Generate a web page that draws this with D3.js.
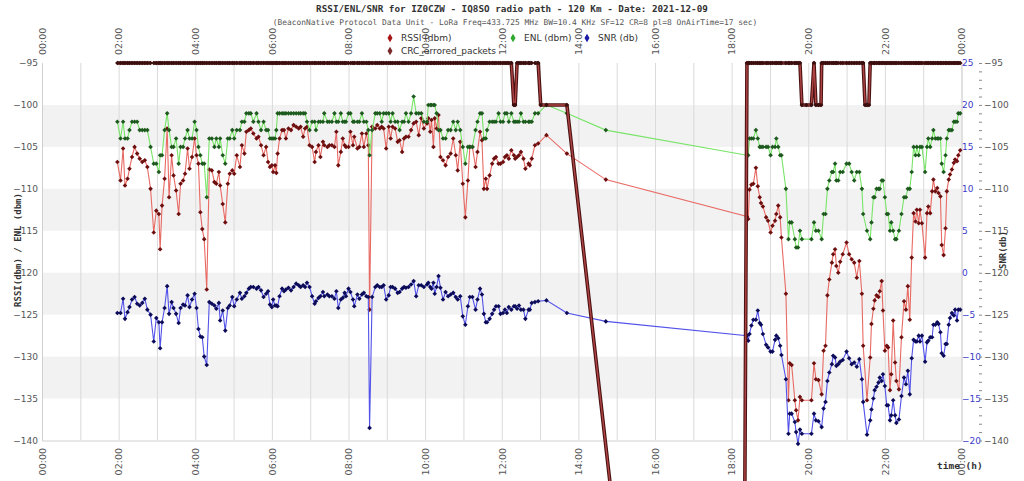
<!DOCTYPE html>
<html>
<head>
<meta charset="utf-8">
<script src="https://cdn.jsdelivr.net/npm/d3@7"></script>
<style>
  body { margin: 0; background: #fff; }
  svg text { font-family: "DejaVu Sans", sans-serif; }
  .mono { font-family: "DejaVu Sans Mono", monospace; }
</style>
</head>
<body>
<div id="chart"></div>
<script>
'use strict';

// time of each beacon record, minutes after midnight
var minutes = [
  118,123,127,130,134,137,141,145,149,153,
  157,161,165,170,175,179,183,185,188,192,
  196,199,203,206,210,214,217,221,224,228,
  231,235,239,242,245,248,251,254,258,262,
  266,270,273,277,279,283,287,291,294,298,
  301,305,310,313,317,320,324,327,331,336,
  339,343,347,351,354,357,360,362,365,367,
  369,372,376,379,382,386,390,394,398,402,
  405,409,412,415,419,423,427,429,433,436,
  440,442,447,450,454,458,461,464,468,471,
  474,476,480,483,487,489,494,497,501,504,
  508,511,513,517,522,525,529,532,535,539,
  543,546,549,553,557,560,564,567,570,574,
  578,582,586,590,594,598,603,605,608,610,
  613,615,618,621,624,628,632,636,640,644,
  648,651,655,659,663,667,670,674,679,682,
  686,689,692,695,697,701,705,708,711,715,
  718,722,725,728,731,735,739,741,744,747,
  750,754,757,762,764,767,772,777,781,790,
  822,883,1092,1104,1106,1108,1111,1114,1118,1121,
  1124,1126,1129,1134,1137,1141,1144,1148,1150,1153,
  1156,1158,1165,1169,1171,1174,1179,1181,1184,1187,
  1190,1197,1205,1209,1212,1216,1220,1221,1224,1227,
  1230,1233,1237,1239,1242,1244,1247,1250,1254,1260,
  1264,1268,1272,1276,1280,1284,1286,1289,1292,1295,
  1297,1299,1302,1304,1307,1310,1312,1315,1317,1320,
  1323,1325,1328,1330,1333,1336,1338,1342,1346,1350,
  1353,1356,1359,1362,1365,1368,1370,1373,1375,1378,
  1383,1386,1388,1391,1394,1396,1399,1402,1404,1407,
  1409,1412,1415,1417,1420,1422,1425,1428,1430,1433,
  1435,1438
];

var rssi = [
  -106.8,-109,-105.2,-109.6,-108.8,-107.6,-106.2,-105,-105.8,-106.4,
  -106.8,-106.6,-107.4,-110,-115.2,-112.6,-113,-117.2,-112,-108.8,
  -102.8,-111,-106,-108.4,-110.2,-113,-109.4,-109,-108.2,-105.2,
  -107.6,-106.2,-104,-106,-107,-112.8,-114.8,-116,-122,-107.7,
  -107.8,-109.2,-109.4,-108,-109.6,-111.8,-114,-109.4,-108.2,-107.8,
  -108.2,-106,-107.4,-104.8,-105.8,-103.2,-103,-102.8,-103.4,-104,
  -103.8,-104.8,-106,-105,-106.8,-107.4,-107.2,-108,-107.2,-108.1,
  -105.8,-104,-103,-103,-104,-102.8,-103,-102.4,-102.6,-102.8,
  -102.6,-103.8,-102.8,-102.6,-104.8,-105,-106.8,-105.6,-104.8,-106.2,
  -104.4,-104.8,-105,-104.8,-104.8,-105,-103.2,-107.2,-105.6,-104,
  -104.8,-105,-105,-103.2,-104.8,-103.8,-105.2,-105,-103.4,-105,
  -103.4,-104.8,-124.4,-102.6,-102.8,-102.4,-102.8,-102.6,-102.8,-105.2,
  -102.6,-104,-102.6,-102.8,-104.4,-104.2,-105.6,-104,-103.8,-103.8,
  -103,-102.2,-102,-103.6,-101.6,-102.8,-102.2,-101.6,-103.2,-101.8,
  -105,-101.6,-102.8,-101.2,-106.2,-106.6,-107.2,-106.2,-105.8,-104,
  -106,-107.8,-104.4,-109.4,-113.4,-109,-105,-105,-107.4,-105.6,
  -103.2,-104.2,-110,-108.8,-110,-108.4,-107,-106.4,-106.2,-107,
  -107,-106.8,-106.2,-106,-106.4,-105.4,-106,-106.4,-106.2,-106,
  -105.6,-106.4,-107.6,-107,-107.2,-106.4,-104.8,-104.6,null,-103.6,
  -105.8,-108.9,null,-113.3,-113.6,-110.1,-109.5,-109.4,-107.5,-109.7,
  -111,-111.7,-112.1,-113.4,-113.8,-115.2,-114.4,-113.8,-113,-112,
  -113.4,-115.8,-122.5,-135.2,-130.8,-131,-135.2,-136.4,-137.6,-134.8,
  -135.2,null,-135.2,-130.8,-132.7,-132.8,null,-134.5,-129.3,-128.7,
  -122.7,-120.8,-118.8,-117.8,-117.2,-119.2,-120,-118.7,-117.8,-116.4,
  -117.8,-118.4,-118.8,-120.6,-118.6,-122.5,-128.7,null,-135.2,null,
  -130.1,-126.1,-124.3,-123.3,-122.7,-122.9,-122.2,-121,-124.5,-129.3,
  -128.7,-128.9,-134,-132.1,-125.7,-130.7,-132.9,-133.9,-127.7,-123.4,
  -124.4,-121.6,-125.6,-118.2,-112.9,-113.9,-112.5,-114.1,-112.5,-114.1,
  -118.2,-112.9,-112.1,-112.9,-110.3,-108.9,-110.3,-109.9,-110.5,-110.9,
  -116.7,-117.9,-114.7,-110.3,-108.9,-108.3,-107.7,-106.9,-106.5,-106.7,
  -106,-105.4
];

var enl = [
  -102,-104,-102,-104,-104,-103,-102,-102,-102,-103,
  -103,-103,-103,-105,-107,-107,-108,-106,-106,-103,
  -101,-103,-105,-105,-104,-107,-105,-105,-104,-103,
  -104,-104,-102,-103,-105,-106,-107,-107,-111,-104,
  -104,-105,-104,-105,-104,-106,-107,-104,-104,-103,
  -104,-103,-103,-102,-102,-101,-101,-101,-102,-101,
  -102,-103,-102,-103,-103,-104,-104,-104,-104,-103,
  -101,-101,-101,-101,-101,-101,-101,-101,-101,-101,
  -101,-101,-101,-102,-103,-102,-102,-103,-102,-102,
  -102,-101,-102,-102,-102,-101,-102,-102,-101,-102,
  -102,-102,-101,-101,-102,-102,-102,-102,-101,-102,
  -102,-103,-106,-103,-101,-101,-101,-102,-101,-101,
  -101,-102,-101,-102,-102,-103,-102,-102,-101,-102,
  -101,-99,-101,-101,-101,-102,-102,-100,-100,-100,
  -100,-100,-101,-103,-103,-104,-104,-103,-103,-102,
  -103,-102,-103,-105,-107,-105,-105,-105,-103,-102,
  -101,-101,-104,-104,-103,-102,-102,-102,-102,-101,
  -102,-102,-101,-101,-102,-101,-102,-102,-102,-102,
  -101,-102,-102,-102,-102,-102,-101,-101,null,-100,
  -101,-103,null,-106,-106,-104,-104,-104,-103,-104,
  -105,-105,-105,-105,-105,-106,-105,-105,-104,-105,
  -106,-106,-110,-116,-114,-114,-116,-117,-117,-115,
  -116,null,-116,-114,-115,-115,null,-116,-113,-113,
  -110,-109,-108,-108,-107,-109,-109,-108,-108,-107,
  -107,-108,-109,-108,-108,-110,-113,null,-115,null,
  -116,-114,-111,-111,-110,-110,-110,-109,-109,-111,
  -113,-113,-115,-114,-115,-116,-116,-115,-113,-111,
  -111,-110,-110,-108,-105,-106,-105,-106,-105,-105,
  -108,-105,-104,-105,-104,-103,-104,-104,-104,-104,
  -107,-108,-106,-104,-103,-103,-103,-102,-102,-102,
  -101,-101
];

var snr = [
  -4.8,-4.8,-3.1,-5.5,-4.7,-4.1,-3.2,-2.9,-3.7,-3.9,
  -3.6,-3.1,-4.4,-5,-8.2,-5.4,-5.9,-9,-5.9,-4.2,
  -1.6,-4.9,-3.5,-4.2,-4.9,-6,-4.2,-3.8,-3.9,-2.7,
  -4.1,-3.2,-2.5,-4.2,-6.7,-7.6,-7.7,-10,-11,-3.5,
  -3.7,-3.9,-4.3,-3.6,-5.7,-4.5,-6.9,-4.2,-3.9,-2.9,
  -4,-3.2,-2.4,-3.1,-2.8,-2.4,-1.9,-1.7,-1.7,-1.9,
  -1.7,-2.1,-2.9,-2.5,-2.2,-3.8,-4.1,-3.2,-3.9,-3.9,
  -4,-2.8,-1.9,-2.2,-2,-1.8,-2.1,-1.7,-1.3,-1.5,
  -1.7,-1.5,-1.7,-1.2,-1.7,-2.8,-3.7,-3.4,-3,-2.8,
  -2.3,-2.8,-2.6,-2.8,-2.8,-3.1,-2.2,-4.2,-3.2,-3,
  -2.4,-2.8,-1.9,-2.3,-3.2,-4,-2.6,-3.1,-2.6,-2.4,
  -2.8,-2.9,-18.5,-2.9,-1.7,-1.5,-1.7,-1.7,-1.5,-3.2,
  -2.7,-1.7,-1.7,-1.9,-2.4,-2.3,-1.9,-1.7,-1.8,-1.7,
  -1.4,-1,-2.8,-1.5,-1.5,-1.7,-1.4,-1.2,-1.7,-1.9,
  -1.2,-2.5,-1.7,-0.4,-1.8,-3.2,-2.3,-2.8,-2.6,-2.4,
  -2.9,-3.2,-2.8,-5.2,-6.2,-4,-2.9,-2.9,-4.4,-3.2,
  -1.9,-2.6,-4.9,-5.9,-5.9,-5.5,-4.9,-4.4,-4,-4,
  -4.9,-4.8,-4.4,-4.8,-4.1,-4.4,-4,-4,-4.3,-3.9,
  -4.4,-4.4,-5.5,-4.4,-4.4,-3.6,-3.5,-3.4,null,-3.3,
  -4.8,-5.8,null,-7.5,-8.1,-7.3,-6.3,-5.6,-5.6,-4.5,
  -6,-6.2,-7.3,-8.6,-8.9,-9.4,-9.4,-8,-7.5,-7.8,
  -8.7,-9.8,-12.7,-19.2,-16.8,-16.8,-17.8,-19,-20.4,-18.7,
  -19.2,null,-19.2,-16.8,-17.6,-17.7,null,-18.4,-16.2,-15.4,
  -12.9,-11.9,-10.9,-9.9,-10.1,-11.1,-10.9,-10.6,-10.4,-9.4,
  -10.2,-10.9,-10.7,-11.2,-10.3,-12.7,-15.4,null,-19.3,null,
  -17.6,-16.3,-15,-14,-13.6,-13.1,-12.5,-12.9,-12.1,-13.5,
  -15.8,-15.8,-17.6,-17,-15.2,-17,-17.9,-17.5,-14.7,-12.5,
  -13.3,-11.7,-14.5,-10.2,-8,-8.2,-8.2,-7.5,-8.2,-7.5,
  -10.6,-8.3,-8.1,-7.7,-7.7,-6.2,-6.2,-5.9,-6.1,-7.1,
  -9.6,-9.9,-8.5,-8.5,-6.2,-5.4,-4.8,-5.1,-4.4,-5.7,
  -4.4,-4.4
];

// CRC errored packets, drawn on the dBm scale
var crc = [
  -95,-95,-95,-95,-95,-95,-95,-95,-95,-95,
  -95,-95,-95,-95,-95,-95,-95,-95,-95,-95,
  -95,-95,-95,-95,-95,-95,-95,-95,-95,-95,
  -95,-95,-95,-95,-95,-95,-95,-95,-95,-95,
  -95,-95,-95,-95,-95,-95,-95,-95,-95,-95,
  -95,-95,-95,-95,-95,-95,-95,-95,-95,-95,
  -95,-95,-95,-95,-95,-95,-95,-95,-95,-95,
  -95,-95,-95,-95,-95,-95,-95,-95,-95,-95,
  -95,-95,-95,-95,-95,-95,-95,-95,-95,-95,
  -95,-95,-95,-95,-95,-95,-95,-95,-95,-95,
  -95,-95,-95,-95,-95,-95,-95,-95,-95,-95,
  -95,-95,-95,-95,-95,-95,-95,-95,-95,-95,
  -95,-95,-95,-95,-95,-95,-95,-95,-95,-95,
  -95,-95,-95,-95,-95,-95,-95,-95,-95,-95,
  -95,-95,-95,-95,-95,-95,-95,-95,-95,-95,
  -95,-95,-95,-95,-95,-95,-95,-95,-95,-95,
  -95,-95,-95,-95,-95,-95,-95,-95,-95,-95,
  -95,-95,-95,-95,-95,-95,-100,-100,-95,-95,
  -95,-95,-95,-95,-95,-95,-95,-95,-100,-100,
  -100,null,-280,-95,-95,-95,-95,-95,-95,-95,
  -95,-95,-95,-95,-95,-95,-95,-95,-95,-95,
  -95,-95,-95,-95,-95,-95,-95,-95,-95,-95,
  -100,-100,-100,-95,-100,-100,-100,-95,-95,-95,
  -95,-95,-95,-95,-95,-95,-95,-95,-95,-95,
  -95,-95,-95,-95,-95,-95,-95,-100,-100,-100,
  -95,-95,-95,-95,-95,-95,-95,-95,-95,-95,
  -95,-95,-95,-95,-95,-95,-95,-95,-95,-95,
  -95,-95,-95,-95,-95,-95,-95,-95,-95,-95,
  -95,-95,-95,-95,-95,-95,-95,-95,-95,-95,
  -95,-95,-95,-95,-95,-95,-95,-95,-95,-95,
  -95,-95
];
// short breaks in the CRC trace (minutes)
var crcGaps = [[171,174],[481,482],[768,770],[1248,1249]];

var timeTicks = [0,120,240,360,480,600,720,840,960,1080,1200,1320,1440];
var timeLabels = ["00:00","02:00","04:00","06:00","08:00","10:00","12:00",
                  "14:00","16:00","18:00","20:00","22:00","00:00"];
var dbmTicks = [-95,-100,-105,-110,-115,-120,-125,-130,-135,-140];
var snrTicks = [25,20,15,10,5,0,-5,-10,-15,-20];
var bands = [[-100,-105],[-110,-115],[-120,-125],[-130,-135]];

var legendNames = ["RSSI (dbm)", "ENL (dbm)", "SNR (db)", "CRC_errored_packets"];

var titleText = "RSSI/ENL/SNR for IZ0CZW - IQ8SO radio path - 120 Km - Date: 2021-12-09";
var subTitleText = "(BeaconNative Protocol Data Unit - LoRa Freq=433.725 MHz BW=10.4 KHz SF=12 CR=8 pl=8 OnAirTime=17 sec)";

// ---------------------------------------------------------------

var width = 1024, height = 481;
var plot = { left: 42, right: 961.5, top: 63, bottom: 440.5 };

var svg = d3.select("#chart").append("svg")
  .attr("width", width)
  .attr("height", height);

var x = d3.scaleLinear().domain([0, 1440]).range([plot.left, plot.right]);
var y = d3.scaleLinear().domain([-140, -95]).range([plot.bottom, plot.top]);
var ySnr = d3.scaleLinear().domain([-20, 25]).range([plot.bottom, plot.top]);

// shaded bands
svg.append("g").selectAll("rect")
  .data(bands)
  .enter().append("rect")
  .attr("x", x(0))
  .attr("width", x(1440) - x(0))
  .attr("y", function(d){ return y(d[0]); })
  .attr("height", function(d){ return y(d[1]) - y(d[0]); })
  .attr("fill", "#f2f2f2");

// hourly grid
svg.append("g")
  .attr("transform", "translate(0," + plot.bottom + ")")
  .call(d3.axisBottom(x).tickValues(d3.range(0, 1441, 60))
        .tickSize(-(plot.bottom - plot.top)).tickFormat(""))
  .call(function(g){ g.select(".domain").attr("stroke", "#d0d0d0"); })
  .selectAll(".tick line").attr("stroke", "#dadada");

// left axis
var leftAxis = svg.append("g")
  .attr("transform", "translate(" + plot.left + ",0)")
  .call(d3.axisLeft(y).tickValues(dbmTicks).tickSize(0).tickSizeOuter(0).tickPadding(4));
leftAxis.select(".domain").attr("stroke", "#cfcfcf");
leftAxis.selectAll("text").attr("fill", "#555").style("font-size", "9px");

// time axes, top and bottom, rotated labels
var topAxis = svg.append("g")
  .attr("transform", "translate(0,55)")
  .call(d3.axisTop(x).tickValues(timeTicks).tickSize(0)
        .tickFormat(function(d, i){ return timeLabels[i]; }));
topAxis.select(".domain").remove();
topAxis.selectAll("text")
  .attr("x", 0).attr("y", 0).attr("dy", "0.35em")
  .attr("text-anchor", "start")
  .attr("transform", "rotate(-90)")
  .attr("fill", "#555").style("font-size", "9.5px");

var bottomAxis = svg.append("g")
  .attr("transform", "translate(0,448)")
  .call(d3.axisBottom(x).tickValues(timeTicks).tickSize(0)
        .tickFormat(function(d, i){ return timeLabels[i]; }));
bottomAxis.select(".domain").remove();
bottomAxis.selectAll("text")
  .attr("x", 0).attr("y", 0).attr("dy", "0.35em")
  .attr("text-anchor", "end")
  .attr("transform", "rotate(-90)")
  .attr("fill", "#555").style("font-size", "9.5px");

// right side: SNR scale and repeated dBm scale
var snrAxis = svg.append("g")
  .attr("transform", "translate(" + (plot.right + 0.5) + ",0)")
  .call(d3.axisRight(ySnr).tickValues(snrTicks).tickSize(0).tickPadding(0));
snrAxis.select(".domain").remove();
snrAxis.selectAll("text").attr("fill", "#3b3bc8").style("font-size", "9px");

var minorAxis = svg.append("g")
  .attr("transform", "translate(982,0)")
  .call(d3.axisLeft(y).tickValues(d3.range(-140, -94, 1)).tickSize(3).tickFormat(""));
minorAxis.select(".domain").remove();
minorAxis.selectAll("line").attr("stroke", "#888");

var rightAxis = svg.append("g")
  .attr("transform", "translate(983,0)")
  .call(d3.axisRight(y).tickValues(dbmTicks).tickSize(0).tickPadding(1));
rightAxis.select(".domain").remove();
rightAxis.selectAll("text").attr("fill", "#555").style("font-size", "9px");

// titles
svg.append("text").attr("class", "mono")
  .attr("x", 512).attr("y", 12).attr("text-anchor", "middle")
  .style("font-size", "9.3px").style("font-weight", "bold").attr("fill", "#333")
  .text(titleText);
svg.append("text").attr("class", "mono")
  .attr("x", 515).attr("y", 25).attr("text-anchor", "middle")
  .style("font-size", "7.9px").attr("fill", "#555")
  .text(subTitleText);

svg.append("text").attr("class", "mono")
  .attr("transform", "translate(21,250) rotate(-90)")
  .attr("text-anchor", "middle")
  .style("font-size", "9px").style("font-weight", "bold").attr("fill", "#333")
  .text("RSSI(dbm) / ENL (dbm)");
svg.append("text").attr("class", "mono")
  .attr("transform", "translate(1006,250) rotate(-90)")
  .attr("text-anchor", "middle")
  .style("font-size", "9px").style("font-weight", "bold").attr("fill", "#333")
  .text("SNR(db)");
svg.append("text").attr("class", "mono")
  .attr("x", 937).attr("y", 469)
  .style("font-size", "9.5px").style("font-weight", "bold").attr("fill", "#333")
  .text("time (h)");

// series
var diamond = "M0,-2.3L2.3,0L0,2.3L-2.3,0Z";

function points(vals) {
  return minutes.map(function(t, i){ return { t: t, v: vals[i] }; })
    .filter(function(d){ return d.v != null; });
}

var line = d3.line()
  .x(function(d){ return x(d.t); })
  .y(function(d){ return y(d.v); });

var lineSnr = d3.line()
  .x(function(d){ return x(d.t); })
  .y(function(d){ return ySnr(d.v); });

function drawSeries(data, lineGen, yScale, stroke, mark) {
  var g = svg.append("g");
  g.append("path")
    .datum(data)
    .attr("d", lineGen)
    .attr("fill", "none")
    .attr("stroke", stroke)
    .attr("stroke-width", 1.1);
  g.selectAll("path.mk")
    .data(data)
    .enter().append("path")
    .attr("class", "mk")
    .attr("d", diamond)
    .attr("transform", function(d){ return "translate(" + x(d.t) + "," + yScale(d.v) + ")"; })
    .attr("fill", mark);
}

drawSeries(points(rssi), line, y, "#e86a64", "#6e0f0f");
drawSeries(points(enl), line, y, "#78e468", "#1d5a1d");
drawSeries(points(snr), lineSnr, ySnr, "#5252ea", "#0b0b5a");

// CRC: thick trace, split at the short breaks
var crcPts = points(crc);
var crcRuns = [[]];
crcPts.forEach(function(d, i){
  if (i > 0) {
    var prev = crcPts[i - 1];
    var broken = crcGaps.some(function(g){ return g[0] < d.t && g[1] > prev.t; });
    if (broken) crcRuns.push([]);
  }
  crcRuns[crcRuns.length - 1].push(d);
});

var crcG = svg.append("g");
crcG.selectAll("path.outer").data(crcRuns).enter().append("path")
  .attr("class", "outer").attr("d", line)
  .attr("fill", "none").attr("stroke", "#4a1212").attr("stroke-width", 3.6)
  .attr("stroke-linejoin", "round");
crcG.selectAll("path.inner").data(crcRuns).enter().append("path")
  .attr("class", "inner").attr("d", line)
  .attr("fill", "none").attr("stroke", "#b04444").attr("stroke-width", 1.4)
  .attr("stroke-linejoin", "round");
crcG.selectAll("path.mk").data(crcPts).enter().append("path")
  .attr("class", "mk").attr("d", diamond)
  .attr("transform", function(d){ return "translate(" + x(d.t) + "," + y(d.v) + ")"; })
  .attr("fill", "#3c0f0f");

// legend
var legendColors = ["#a81616", "#2ea82e", "#1a1aa8", "#7a2a2a"];
var legendPos = [[390, 38], [513, 38], [587, 38], [390, 51]];
var legend = svg.append("g").selectAll("g")
  .data(legendNames)
  .enter().append("g")
  .attr("transform", function(d, i){ return "translate(" + legendPos[i][0] + "," + legendPos[i][1] + ")"; });
legend.append("path")
  .attr("d", d3.symbol(d3.symbolDiamond, 22))
  .attr("fill", function(d, i){ return legendColors[i]; });
legend.append("text")
  .attr("x", 11).attr("dy", "0.35em")
  .style("font-size", "9px").attr("fill", "#333")
  .text(function(d){ return d; });
</script>
</body>
</html>
